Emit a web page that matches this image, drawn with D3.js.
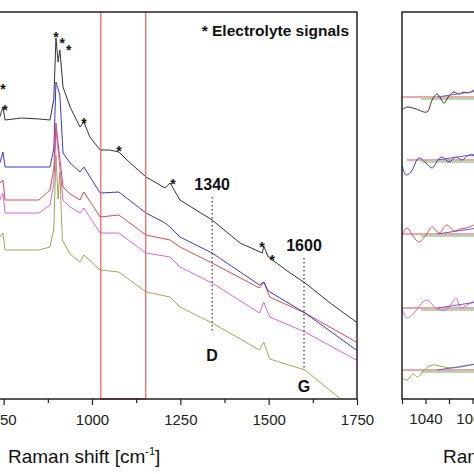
<!DOCTYPE html>
<html><head><meta charset="utf-8">
<script src="https://cdn.jsdelivr.net/npm/d3@7"></script>
<style>body{margin:0;background:#fff}svg{display:block}</style>
</head><body><svg id="c" width="474" height="474"></svg>
<script>
// ---- left panel spectra: wavenumber / intensity (a.u.)
const wnBlack = [739,748,754,800,850,881,892,898,904,909,918,938,966,977,994,1023,1050,1076,1108,1153,1207,1221,1249,1340,1419,1482,1486,1499,1561,1603,1674,1748];
const intBlack = [282,292,279,281,280,279,300,361,337,349,312,292,272,277,262,249,249,247,236,222,211,216,199,179,156,146,153,142,126,116,96,77];
const wnBlue = [739,748,754,850,881,892,898,909,918,938,966,977,1023,1076,1153,1207,1221,1249,1340,1474,1486,1499,1603,1748];
const intBlue = [236,247,232,232,232,250,317,304,246,236,227,232,206,207,186,176,172,162,146,114,117,108,86,49];
const wnRed = [739,748,754,850,881,892,898,904,918,938,966,977,1023,1076,1153,1221,1249,1340,1474,1486,1503,1603,1748];
const intRed = [216,219,199,199,209,230,276,256,212,205,199,207,182,184,164,159,152,136,111,117,102,86,57];
const wnMagenta = [739,748,754,850,881,892,898,907,918,938,966,977,1023,1076,1153,1221,1249,1340,1474,1486,1503,1603,1748];
const intMagenta = [199,206,186,186,194,215,269,239,199,192,186,191,166,166,146,142,132,116,86,97,82,67,39];
const wnOlive = [739,748,754,850,881,892,898,904,909,916,938,966,977,1023,1076,1153,1221,1249,1340,1474,1486,1503,1603,1700];
const intOlive = [162,166,149,149,152,170,244,200,227,159,145,137,144,129,127,107,102,92,76,49,57,40,29,1];
const xTicks = [750,1000,1250,1500,1750];
const bandEdges = [1025,1152];
const dMark = 1340, gMark = 1600;

// ---- right panel: wavenumber / relative intensity per row
const rWn = [
 [1030,1032.1,1036,1040.6,1042.8,1044.9,1046.6,1047.9,1050,1052.1,1054.3,1056.4,1058.1,1060.6],
 [1030,1031.7,1033.8,1037.2,1040.2,1042.8,1045.3,1047,1050,1053,1055.5,1058.5,1060.6],
 [1030,1032.1,1034.7,1037.2,1040.2,1042.8,1045.8,1049.1,1052.1,1054.7,1057.2,1060.6],
 [1030,1032.1,1035.1,1037.7,1040.6,1044.9,1048.7,1050.9,1053,1055.1,1057.7,1060.6],
 [1030,1032.1,1034.7,1036.8,1039.4,1042.8,1046.2,1050.4,1054.7,1060.6]
];
const rInt = [
 [-13,-10,-12,-15,-3,3,-2,-6,1,5,3,5,4,7],
 [-5,-15,-12,2,-3,-8,0,3,-2,3,0,5,4],
 [-1,6,-2,-8,-1,7,1,9,3,5,6,9],
 [0,-10,-5,3,8,-1,-2,4,10,0,3,7],
 [-8,-10,-4,-7,0,5,4,2,3,6]
];
const rowOffsets = [302,239,165,91,29];
const rowColors = ["#333333","#3b3bc8","#dd4b4b","#d965d9","#a4a458"];
const rTicks = [1030,1040,1050,1060];

const svg = d3.select("#c");
const font = "Arial, 'Liberation Sans', sans-serif";
const x = d3.scaleLinear().domain([1000,1750]).range([92,357]);
const y = d3.scaleLinear().domain([0,387]).range([399,12]);
const line = d3.line().x(d=>x(d[0])).y(d=>y(d[1]));

svg.append("clipPath").attr("id","cl").append("rect").attr("x",-10).attr("y",12).attr("width",367).attr("height",387);
const g = svg.append("g").attr("clip-path","url(#cl)");
[[wnBlack,intBlack,rowColors[0]],[wnOlive,intOlive,rowColors[4]],[wnMagenta,intMagenta,rowColors[3]],[wnRed,intRed,rowColors[2]],[wnBlue,intBlue,rowColors[1]]].forEach(([w,v,c])=>{
  g.append("path").attr("d",line(w.map((d,i)=>[d,v[i]]))).attr("fill","none").attr("stroke",c).attr("stroke-width",1);
});
bandEdges.forEach(b=>svg.append("line").attr("x1",x(b)).attr("x2",x(b)).attr("y1",12).attr("y2",399).attr("stroke","#e86a6a").attr("stroke-width",1.3));
svg.append("line").attr("x1",x(bandEdges[0])).attr("x2",x(bandEdges[1])).attr("y1",399).attr("y2",399).attr("stroke","#e86a6a").attr("stroke-width",2);

// frame
svg.append("path").attr("d",`M-5,12H357V399H-5`).attr("fill","none").attr("stroke","#222").attr("stroke-width",1.5);
const ax = svg.append("g").attr("transform","translate(0,399)")
  .call(d3.axisBottom(x).tickValues(xTicks).tickSize(6).tickFormat(d3.format("d")));
ax.select(".domain").remove();
ax.selectAll("text").attr("font-family",font).attr("font-size",15).attr("fill","#222").attr("dy","1.1em");
ax.selectAll("line").attr("stroke","#222").attr("stroke-width",1.2);
svg.append("g").attr("transform","translate(0,399)")
  .call(d3.axisBottom(x).tickValues([875,1125,1375,1625]).tickSize(4).tickFormat(""))
  .call(s=>{s.select(".domain").remove();s.selectAll("line").attr("stroke","#222").attr("stroke-width",1.2);});

// annotations
const t = (px,py,s,sz,anchor,w)=>svg.append("text").attr("x",px).attr("y",py).text(s).attr("font-family",font).attr("font-size",sz).attr("font-weight",w||"bold").attr("text-anchor",anchor||"middle").attr("fill","#111");
t(349,36,"* Electrolyte signals",15.5,"end");
[[748,87],[754,108],[898,35],[916,41],[934,48],[977,121],[1076,149],[1229,182],[1481,245],[1510,258]].forEach(([w,py])=>t(x(w),py+7,"*",14));
t(x(dMark),190,"1340",16);
t(x(gMark),251,"1600",16);
svg.append("line").attr("x1",x(dMark)).attr("x2",x(dMark)).attr("y1",197).attr("y2",333).attr("stroke","#111").attr("stroke-dasharray","1.5,2.5");
svg.append("line").attr("x1",x(gMark)).attr("x2",x(gMark)).attr("y1",258).attr("y2",370).attr("stroke","#111").attr("stroke-dasharray","1.5,2.5");
t(x(dMark),361,"D",16);
t(x(gMark),392,"G",16);
const tt = svg.append("text").attr("x",8).attr("y",463).attr("font-family",font).attr("font-size",19).attr("fill","#111");
tt.append("tspan").text("Raman shift [cm");
tt.append("tspan").text("-1").attr("font-size",11).attr("dy",-8);
tt.append("tspan").text("]").attr("dy",8);

// right panel
const xr = d3.scaleLinear().domain([1030,1060]).range([402,472.5]);
const yr = d3.scaleLinear().domain([0,387]).range([399,12]);
svg.append("clipPath").attr("id","cr").append("rect").attr("x",402).attr("y",12).attr("width",100).attr("height",387);
const gr = svg.append("g").attr("clip-path","url(#cr)");
rowOffsets.forEach((o,i)=>{
  const startRed = i===1 ? 1032 : 1030;
  gr.append("line").attr("x1",xr(1038)).attr("x2",xr(1065)).attr("y1",yr(o-2)).attr("y2",yr(o-2)).attr("stroke","#5cb85c").attr("stroke-width",1);
  gr.append("line").attr("x1",xr(startRed)).attr("x2",xr(1065)).attr("y1",yr(o)).attr("y2",yr(o)).attr("stroke","#d9534f").attr("stroke-width",1.2);
  gr.append("path").attr("d",d3.line().curve(d3.curveCatmullRom).x(d=>xr(d[0])).y(d=>yr(d[1]+o))(rWn[i].map((w,j)=>[w,rInt[i][j]]))).attr("fill","none").attr("stroke",rowColors[i]).attr("stroke-width",1);
  gr.append("line").attr("x1",xr(1045)).attr("x2",xr(1065)).attr("y1",yr(o)).attr("y2",yr(o+7)).attr("stroke","#6a5acd").attr("stroke-width",1);
});
svg.append("path").attr("d","M490,12H402V399H490").attr("fill","none").attr("stroke","#222").attr("stroke-width",1.5);
const axr = svg.append("g").attr("transform","translate(0,399)")
  .call(d3.axisBottom(xr).tickValues(rTicks).tickSize(5).tickFormat(d=>d%20===0?d:""));
axr.select(".domain").remove();
axr.selectAll("text").attr("font-family",font).attr("font-size",15).attr("fill","#222").attr("dy","1.1em");
axr.selectAll("line").attr("stroke","#222").attr("stroke-width",1.2);
svg.append("text").attr("x",443).attr("y",463).text("Raman shift").attr("font-family",font).attr("font-size",19).attr("fill","#111");
</script></body></html>
